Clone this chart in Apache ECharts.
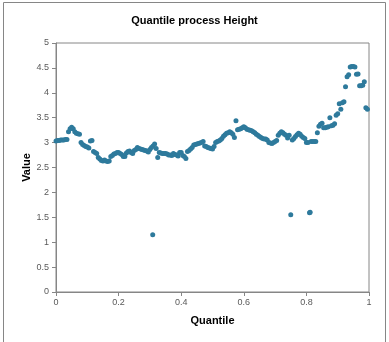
<!DOCTYPE html>
<html>
<head>
<meta charset="utf-8">
<script src="https://cdn.jsdelivr.net/npm/echarts@6/dist/echarts.min.js"></script>
<style>
html,body{margin:0;padding:0;background:#fff;}
#chart{width:389px;height:342px;}
</style>
</head>
<body>
<div id="chart"></div>
<script>
const titleText = "Quantile process Height";
const xName = "Quantile";
const yName = "Value";
const quantiles = [
0.000,0.005,0.010,0.015,0.020,0.025,0.030,0.035,0.040,0.045,0.050,0.055,0.060,0.065,0.070,0.075,0.080,0.085,0.090,0.095,
0.100,0.105,0.110,0.115,0.120,0.125,0.130,0.135,0.140,0.145,0.150,0.155,0.160,0.165,0.170,0.175,0.180,0.185,0.190,0.195,
0.200,0.205,0.210,0.215,0.220,0.225,0.230,0.235,0.240,0.245,0.250,0.255,0.260,0.265,0.270,0.275,0.280,0.285,0.290,0.295,
0.300,0.305,0.309,0.310,0.315,0.320,0.325,0.330,0.335,0.340,0.345,0.350,0.355,0.360,0.365,0.370,0.375,0.380,0.385,0.390,0.395,
0.400,0.405,0.410,0.415,0.420,0.425,0.430,0.435,0.440,0.445,0.450,0.455,0.460,0.465,0.470,0.475,0.480,0.485,0.490,0.495,
0.500,0.505,0.510,0.515,0.520,0.525,0.530,0.535,0.540,0.545,0.550,0.555,0.560,0.565,0.570,0.575,0.580,0.585,0.590,0.595,
0.600,0.605,0.610,0.615,0.620,0.625,0.630,0.635,0.640,0.645,0.650,0.655,0.660,0.665,0.670,0.675,0.680,0.685,0.690,0.695,
0.700,0.705,0.710,0.715,0.720,0.725,0.730,0.735,0.740,0.745,0.750,0.755,0.760,0.765,0.770,0.775,0.780,0.785,0.790,0.795,
0.800,0.805,0.810,0.812,0.815,0.820,0.825,0.830,0.835,0.840,0.845,0.850,0.855,0.860,0.865,0.870,0.875,0.880,0.885,0.890,0.895,
0.900,0.905,0.910,0.915,0.920,0.925,0.930,0.935,0.940,0.945,0.950,0.955,0.960,0.965,0.970,0.975,0.980,0.985,0.990,0.995
];
const values = [
3.03,3.04,3.04,3.05,3.05,3.05,3.06,3.06,3.22,3.28,3.31,3.28,3.22,3.19,3.18,3.17,3.00,2.96,2.94,2.92,
2.91,2.89,3.03,3.04,2.82,2.80,2.78,2.70,2.67,2.64,2.63,2.65,2.63,2.62,2.63,2.72,2.74,2.77,2.78,2.80,
2.80,2.78,2.76,2.72,2.72,2.79,2.82,2.83,2.80,2.78,2.84,2.86,2.90,2.88,2.87,2.86,2.85,2.84,2.83,2.81,
2.86,2.90,1.15,2.93,2.97,2.88,2.70,2.80,2.79,2.78,2.78,2.78,2.77,2.75,2.75,2.74,2.78,2.76,2.75,2.73,2.80,
2.80,2.74,2.72,2.68,2.82,2.84,2.87,2.90,2.95,2.96,2.97,2.98,2.99,3.00,3.02,2.93,2.92,2.90,2.89,2.88,
2.87,2.92,3.00,3.02,3.03,3.05,3.08,3.13,3.16,3.19,3.20,3.22,3.20,3.17,3.10,3.44,3.26,3.27,3.28,3.30,
3.32,3.30,3.27,3.26,3.25,3.24,3.22,3.20,3.17,3.15,3.12,3.10,3.08,3.07,3.07,3.05,3.00,2.99,2.98,3.00,
3.02,3.04,3.15,3.19,3.22,3.20,3.17,3.15,3.09,3.15,1.55,3.05,3.08,3.12,3.16,3.19,3.17,3.13,3.10,3.08,
3.00,3.00,1.59,1.60,3.02,3.02,3.02,3.02,3.20,3.33,3.37,3.39,3.30,3.30,3.31,3.32,3.50,3.34,3.35,3.38,3.55,
3.58,3.78,3.67,3.80,3.82,4.12,4.32,4.36,4.52,4.53,4.53,4.52,4.37,4.38,4.14,4.14,4.15,4.22,3.70,3.67
];
const xTicks = [0, 0.2, 0.4, 0.6, 0.8, 1];
const yTicks = [0, 0.5, 1, 1.5, 2, 2.5, 3, 3.5, 4, 4.5, 5];

const points = quantiles.map((q, i) => [q, values[i]]);
const chart = echarts.init(document.getElementById('chart'), null, {renderer: 'canvas'});
const axisGray = '#868686';
const labelCol = '#595959';
chart.setOption({
  animation: false,
  backgroundColor: '#ffffff',
  title: {
    text: titleText, left: 'center', top: 10,
    textStyle: {fontFamily: 'Liberation Sans', fontWeight: 'bold', fontSize: 11, color: '#000'}
  },
  graphic: [{
    type: 'rect', shape: {x: 3.5, y: 2.5, width: 382, height: 345},
    style: {fill: 'none', stroke: '#868686', lineWidth: 1}, silent: true
  }],
  grid: {left: 56, top: 43, right: 20, bottom: 50, show: true, borderColor: axisGray, borderWidth: 1, backgroundColor: 'transparent'},
  xAxis: {
    type: 'value', min: xTicks[0], max: xTicks[xTicks.length-1], interval: 0.2,
    name: xName, nameLocation: 'middle', nameGap: 23, nameMoveOverlap: false,
    nameTextStyle: {fontFamily: 'Liberation Sans', fontWeight: 'bold', fontSize: 11, color: '#000'},
    axisLine: {lineStyle: {color: axisGray}},
    axisTick: {show: true, inside: false, length: 4, lineStyle: {color: axisGray}},
    splitLine: {show: false},
    axisLabel: {fontFamily: 'Liberation Sans', fontSize: 9, color: labelCol, margin: 6}
  },
  yAxis: {
    type: 'value', min: yTicks[0], max: yTicks[yTicks.length-1], interval: 0.5,
    name: yName, nameLocation: 'middle', nameGap: 24, nameRotate: 90, nameMoveOverlap: false,
    nameTextStyle: {fontFamily: 'Liberation Sans', fontWeight: 'bold', fontSize: 11, color: '#000'},
    axisLine: {show: true, lineStyle: {color: axisGray}},
    axisTick: {show: true, inside: false, length: 4, lineStyle: {color: axisGray}},
    splitLine: {show: false},
    axisLabel: {fontFamily: 'Liberation Sans', fontSize: 9, color: labelCol, margin: 7}
  },
  series: [{
    type: 'scatter', data: points, symbol: 'circle', symbolSize: 5,
    itemStyle: {color: '#2E7A9C', opacity: 1}
  }]
});
</script>
</body>
</html>
